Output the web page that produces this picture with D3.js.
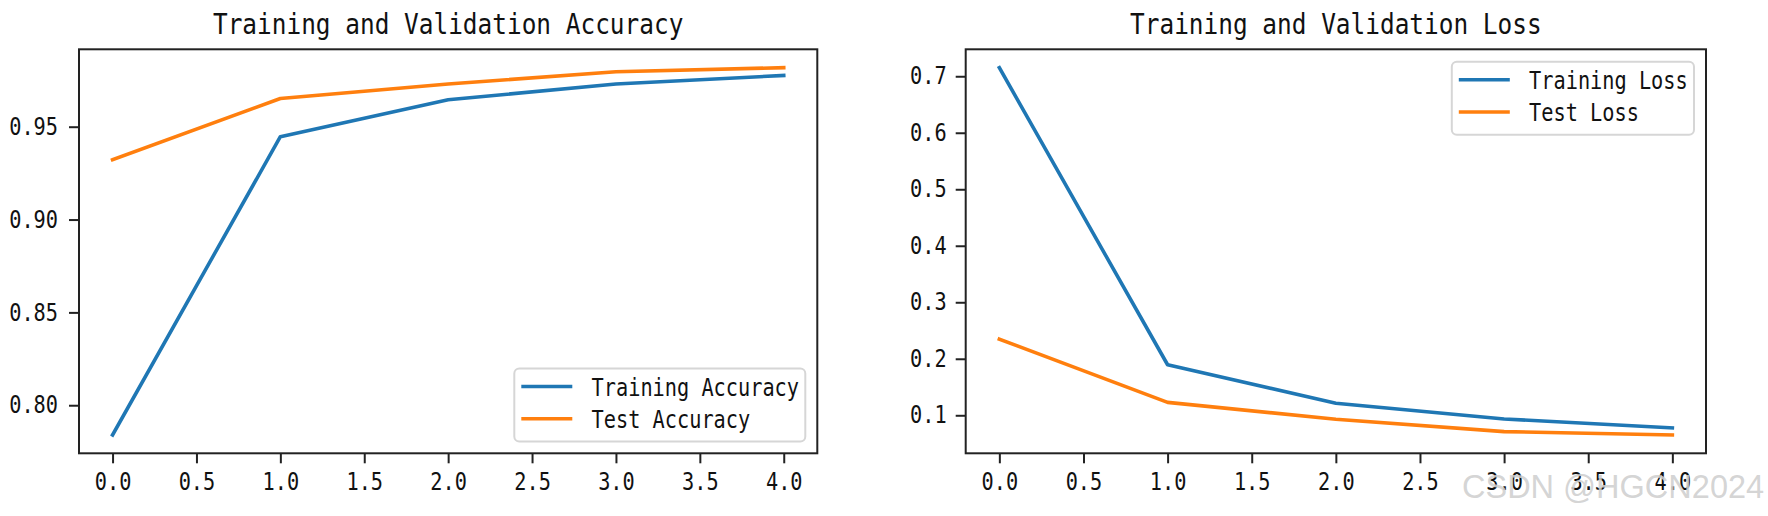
<!DOCTYPE html>
<html><head><meta charset="utf-8">
<script src="https://cdn.jsdelivr.net/npm/d3@7"></script>
<style>html,body{margin:0;padding:0;background:#fff}svg{display:block}</style>
</head><body><svg id="c" width="1768" height="516"></svg>
<script>
// ---- data ----
const epochs = [0, 1, 2, 3, 4];
const trainAcc = [0.7840, 0.9446, 0.9645, 0.9730, 0.9776];
const testAcc  = [0.9322, 0.9652, 0.9730, 0.9796, 0.9818];
const trainLoss = [0.7152, 0.1894, 0.1212, 0.0935, 0.0776];
const testLoss  = [0.2347, 0.1229, 0.0930, 0.0711, 0.0652];
const xTicks = [0, 0.5, 1, 1.5, 2, 2.5, 3, 3.5, 4];
const accTicks = [0.80, 0.85, 0.90, 0.95];
const lossTicks = [0.1, 0.2, 0.3, 0.4, 0.5, 0.6, 0.7];
const titles = ["Training and Validation Accuracy", "Training and Validation Loss"];
const accLabels = ["Training Accuracy", "Test Accuracy"];
const lossLabels = ["Training Loss", "Test Loss"];
const colors = ["#1f77b4", "#ff7f0e"];
const watermark = "CSDN @HGCN2024";

// ---- styling ----
const FONT = "'DejaVu Sans Mono', monospace";
const FS = 24, ADV = 12.2;      // tick / legend text
const TFS = 27.5, TADV = 14.7;  // titles
const INK = "#111";
const svg = d3.select("#c");

function fitText(sel, adv) {
  sel.each(function () {
    const t = d3.select(this);
    const s = t.text();
    t.attr("textLength", s.length * adv).attr("lengthAdjust", "spacingAndGlyphs");
  });
}

function panel(cfg) {
  const g = svg.append("g");
  const x = d3.scaleLinear().domain([-0.2, 4.2]).range([cfg.x0, cfg.x1]);
  const all = cfg.series.flat();
  const [mn, mx] = d3.extent(all);
  const pad = (mx - mn) * 0.05;
  const y = d3.scaleLinear().domain([mn - pad, mx + pad]).range([cfg.y1, cfg.y0]);

  // axes
  const ax = g.append("g").attr("transform", `translate(0,${cfg.y1})`)
    .call(d3.axisBottom(x).tickValues(xTicks).tickFormat(d3.format(".1f"))
      .tickSize(10).tickSizeOuter(0).tickPadding(9.7));
  const ay = g.append("g").attr("transform", `translate(${cfg.x0},0)`)
    .call(d3.axisLeft(y).tickValues(cfg.ticks).tickFormat(d3.format(cfg.fmt))
      .tickSize(10).tickSizeOuter(0).tickPadding(cfg.ypad));
  [ax, ay].forEach(a => {
    a.attr("font-size", FS).attr("font-family", FONT);
    a.select(".domain").remove();
    a.selectAll(".tick line").attr("stroke", "#222").attr("stroke-width", 2);
    a.selectAll(".tick text").attr("fill", INK).call(fitText, ADV);
  });

  // lines
  const line = d3.line().x((d, i) => x(epochs[i])).y(d => y(d));
  cfg.series.forEach((s, k) => {
    g.append("path").datum(s).attr("d", line)
      .attr("fill", "none").attr("stroke", colors[k]).attr("stroke-width", 3.6)
      .attr("stroke-linejoin", "round").attr("stroke-linecap", "square");
  });

  // frame
  g.append("rect").attr("x", cfg.x0).attr("y", cfg.y0)
    .attr("width", cfg.x1 - cfg.x0).attr("height", cfg.y1 - cfg.y0)
    .attr("fill", "none").attr("stroke", "#222").attr("stroke-width", 2);

  // title
  g.append("text").attr("x", (cfg.x0 + cfg.x1) / 2).attr("y", 34.3)
    .attr("text-anchor", "middle").attr("font-family", FONT).attr("font-size", TFS)
    .attr("fill", INK).text(cfg.title).call(fitText, TADV);

  // legend
  const maxLen = d3.max(cfg.labels, l => l.length);
  const bw = 8 + 51 + 18.6 + maxLen * ADV + 6;
  const bh = 73;
  const bx = cfg.x1 - 12 - bw;
  const by = cfg.legend === "upper right" ? cfg.y0 + 12.4 : cfg.y1 - 11.8 - bh;
  const lg = g.append("g");
  lg.append("rect").attr("x", bx).attr("y", by).attr("width", bw).attr("height", bh)
    .attr("rx", 5).attr("fill", "#fff").attr("fill-opacity", 0.8)
    .attr("stroke", "#d6d6d6").attr("stroke-width", 2);
  cfg.labels.forEach((lab, k) => {
    const ry = by + 18 + k * 32.3;
    lg.append("line").attr("x1", bx + 7).attr("x2", bx + 58).attr("y1", ry).attr("y2", ry)
      .attr("stroke", colors[k]).attr("stroke-width", 3.6);
    lg.append("text").attr("x", bx + 77.3).attr("y", ry + 9)
      .attr("font-family", FONT).attr("font-size", FS).attr("fill", INK)
      .text(lab).call(fitText, ADV);
  });
}

panel({x0: 79, x1: 817.3, y0: 49.3, y1: 453.3, series: [trainAcc, testAcc],
  ticks: accTicks, fmt: ".2f", ypad: 11, title: titles[0], labels: accLabels, legend: "lower right"});
panel({x0: 965.7, x1: 1706, y0: 49.3, y1: 453.3, series: [trainLoss, testLoss],
  ticks: lossTicks, fmt: ".1f", ypad: 9, title: titles[1], labels: lossLabels, legend: "upper right"});

// watermark
svg.append("text").attr("x", 1462).attr("y", 497.5)
  .attr("font-family", "'Liberation Sans', Arial, sans-serif").attr("font-size", 32.5)
  .attr("fill", "#cfcfcf").attr("fill-opacity", 0.9).text(watermark);
</script>
</body></html>
